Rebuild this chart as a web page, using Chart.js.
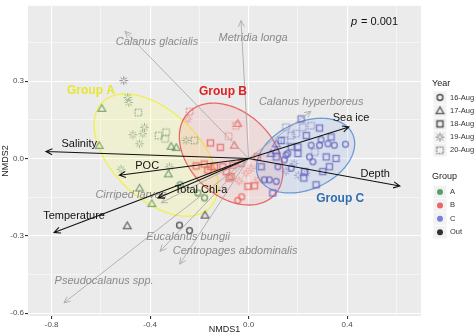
<!DOCTYPE html>
<html lang="en">
<head>
<meta charset="UTF-8">
<title>NMDS</title>
<script src="https://cdn.jsdelivr.net/npm/chart.js"></script>
<style>
  html, body { margin: 0; padding: 0; background: #fff; }
</style>
</head>
<body>
<canvas id="nmds" width="474" height="335"></canvas>
<script>
// ---- data ----
const dayLabels = ['16-Aug', '17-Aug', '18-Aug', '19-Aug', '20-Aug'];
const groupLabels = ['A', 'B', 'C', 'Out'];

// day index: 0 circle, 1 triangle, 2 square, 3 star, 4 dashed square
const aX = [-0.491, -0.487, -0.596, -0.448, -0.423, -0.470, -0.430, -0.443, -0.366, -0.335, -0.339, -0.315, -0.294, -0.607, -0.518, -0.322, -0.326, -0.443, -0.393, -0.278, -0.206, -0.179, -0.254, -0.220];
const aY = [0.236, 0.217, 0.194, 0.178, 0.121, 0.092, 0.096, 0.057, 0.089, 0.102, 0.076, 0.047, 0.042, 0.050, -0.042, -0.032, -0.060, -0.115, -0.175, -0.102, -0.134, -0.153, 0.070, 0.070];
const aDay = [3, 3, 1, 4, 3, 3, 3, 3, 4, 4, 4, 1, 1, 1, 3, 3, 1, 1, 1, 0, 0, 0, 3, 4];

const bX = [-0.240, -0.247, -0.044, -0.051, -0.081, -0.155, -0.115, -0.058, 0.035, -0.213, -0.180, -0.139, -0.105, -0.064, -0.030, -0.071, -0.091, -0.003, 0.024, -0.044, -0.028, -0.152, -0.010, 0.037, -0.039, 0.010, -0.166, -0.079];
const bY = [0.182, 0.153, 0.136, 0.127, 0.086, 0.060, 0.043, 0.051, 0.006, -0.029, -0.022, -0.032, -0.032, -0.026, -0.019, -0.070, -0.051, -0.108, -0.106, -0.163, -0.149, -0.032, -0.057, -0.083, -0.088, -0.038, -0.045, -0.076];
const bDay = [4, 3, 1, 4, 4, 2, 2, 1, 2, 2, 2, 2, 2, 2, 2, 2, 2, 2, 2, 0, 0, 1, 3, 3, 3, 3, 2, 2];

const cX = [0.220, 0.254, 0.288, 0.193, 0.234, 0.335, 0.288, 0.322, 0.348, 0.393, 0.254, 0.173, 0.145, 0.112, 0.091, 0.112, 0.159, 0.200, 0.247, 0.355, 0.315, 0.328, 0.301, 0.274, 0.227, 0.224, 0.098, 0.064, 0.084, 0.112, 0.173, 0.261, 0.145, 0.152, 0.201, 0.234, 0.152, 0.173, 0.132, 0.200, 0.294, 0.112, 0.152, 0.051, 0.119, 0.213, 0.269, 0.185];
const cY = [0.121, 0.127, 0.118, 0.096, 0.089, 0.083, 0.051, 0.057, 0.051, 0.055, 0.051, 0.045, 0.070, 0.057, 0.019, 0.006, 0.019, 0.019, 0.006, 0.000, 0.006, -0.032, -0.051, -0.102, -0.051, -0.076, -0.134, -0.083, -0.083, -0.089, -0.038, -0.013, -0.006, -0.050, -0.065, -0.057, 0.121, 0.089, 0.070, 0.045, 0.073, 0.032, 0.013, -0.032, -0.032, 0.153, 0.025, -0.020];
const cDay = [4, 4, 2, 4, 2, 2, 0, 0, 0, 0, 0, 2, 4, 1, 1, 2, 0, 2, 0, 2, 2, 2, 2, 2, 2, 2, 2, 0, 0, 0, 0, 0, 0, 3, 3, 3, 4, 4, 2, 2, 0, 1, 0, 2, 0, 2, 4, 3];

const outX = [-0.507, -0.493, -0.281, -0.240, -0.177];
const outY = [0.302, -0.261, -0.259, -0.280, -0.220];
const outDay = [3, 1, 0, 0, 1];

// environmental vectors
const envNames = ['Salinity', 'Sea ice', 'Depth', 'POC', 'Total Chl-a', 'Temperature'];
const envX = [-0.823, 0.407, 0.614, -0.525, -0.368, -0.790];
const envY = [0.027, 0.122, -0.107, -0.065, -0.153, -0.287];
const envLabelX = [-0.688, 0.416, 0.514, -0.412, -0.193, -0.709];
const envLabelY = [0.057, 0.157, -0.061, -0.031, -0.122, -0.222];

// species vectors
const sppNames = ['Calanus glacialis', 'Metridia longa', 'Calanus hyperboreus', 'Cirriped larvae', 'Eucalanus bungii', 'Centropages abdominalis', 'Pseudocalanus spp.'];
const sppX = [-0.502, -0.031, 0.253, -0.355, -0.360, -0.280, -0.750];
const sppY = [0.493, 0.535, 0.183, -0.172, -0.360, -0.410, -0.560];
const sppLabelX = [-0.372, 0.018, 0.254, -0.477, -0.246, -0.055, -0.587];
const sppLabelY = [0.451, 0.466, 0.218, -0.141, -0.306, -0.359, -0.474];

// group ellipses: centre and two semi-axis vectors (NMDS units)
const ellCx = [-0.376, -0.071, 0.231];
const ellCy = [0.013, 0.017, 0.011];
const ellMajX = [0.218, 0.172, 0.191];
const ellMajY = [-0.205, -0.162, 0.084];
const ellMinX = [0.126, 0.121, -0.058];
const ellMinY = [0.119, 0.113, 0.118];
const groupNameX = [-0.640, -0.104, 0.372];
const groupNameY = [0.263, 0.260, -0.157];

const xGrid = [-0.8, -0.6, -0.4, -0.2, 0, 0.2, 0.4, 0.6];
const xMajor = [-0.8, -0.4, 0, 0.4];
const yGrid = [-0.6, -0.45, -0.3, -0.15, 0, 0.15, 0.3, 0.45];
const yMajor = [-0.6, -0.3, 0, 0.3];

// ---- styles ----
const pointColors = { A: 'rgba(70,125,75,0.65)', B: 'rgba(232,95,85,0.72)', C: 'rgba(95,95,190,0.72)', Out: 'rgba(55,55,55,0.75)' };
const keyColors = ['rgba(40,130,65,0.75)', 'rgba(232,55,55,0.75)', 'rgba(80,90,210,0.75)', 'rgba(0,0,0,0.8)'];
const ellStroke = ['#F0F050', '#E86868', '#6A9AD8'];
const ellFill = ['rgba(255,255,110,0.20)', 'rgba(245,120,120,0.15)', 'rgba(120,160,235,0.16)'];
const groupNameColor = ['#E6E62E', '#DD2222', '#2F6DB5'];

function makeIcon(shape, color) {
  const c = document.createElement('canvas');
  c.width = 11; c.height = 11;
  const g = c.getContext('2d');
  g.strokeStyle = color;
  g.translate(5.5, 5.5);
  if (shape === 0) {
    g.lineWidth = 1.5;
    g.beginPath(); g.arc(0, 0, 2.9, 0, Math.PI * 2); g.stroke();
  } else if (shape === 1) {
    g.lineWidth = 1.3;
    g.beginPath(); g.moveTo(0, -3.8); g.lineTo(3.8, 2.8); g.lineTo(-3.8, 2.8); g.closePath(); g.stroke();
  } else if (shape === 2) {
    g.lineWidth = 1.5;
    g.strokeRect(-3, -3, 6, 6);
  } else if (shape === 3) {
    g.lineWidth = 0.8;
    g.beginPath();
    for (let k = 0; k < 8; k++) {
      const a = k * Math.PI / 4;
      g.moveTo(1.4 * Math.cos(a), 1.4 * Math.sin(a));
      g.lineTo(4.2 * Math.cos(a), 4.2 * Math.sin(a));
    }
    g.stroke();
  } else {
    g.lineWidth = 1;
    g.setLineDash([1.6, 1.1]);
    g.strokeRect(-3.3, -3.3, 6.6, 6.6);
  }
  return c;
}

const icons = {};
groupLabels.forEach(gname => { icons[gname] = [0, 1, 2, 3, 4].map(s => makeIcon(s, pointColors[gname])); });
const legendIcons = [0, 1, 2, 3, 4].map(s => makeIcon(s, 'rgba(65,65,65,0.9)'));

function pts(xs, ys) { return xs.map((x, i) => ({ x: x, y: ys[i] })); }
function styleBy(gname, days) {
  return ctx => icons[gname][days[ctx.dataIndex] !== undefined ? days[ctx.dataIndex] : 0];
}
const isIn = (list, v) => list.some(m => Math.abs(m - v) < 1e-9);

function arrow(g, x0, y0, x1, y1, color, lw) {
  const ang = Math.atan2(y1 - y0, x1 - x0), L = 7, sp = Math.PI / 7;
  g.strokeStyle = color; g.lineWidth = lw;
  g.beginPath();
  g.moveTo(x0, y0); g.lineTo(x1, y1);
  g.moveTo(x1 - L * Math.cos(ang - sp), y1 - L * Math.sin(ang - sp));
  g.lineTo(x1, y1);
  g.lineTo(x1 - L * Math.cos(ang + sp), y1 - L * Math.sin(ang + sp));
  g.stroke();
}

const decor = {
  id: 'decor',
  beforeDraw(chart) {
    const g = chart.ctx, a = chart.chartArea;
    g.save();
    g.fillStyle = '#fff'; g.fillRect(0, 0, chart.width, chart.height);
    g.fillStyle = '#EBEBEB'; g.fillRect(a.left, a.top, a.right - a.left, a.bottom - a.top);
    g.restore();
  },
  beforeDatasetsDraw(chart) {
    const g = chart.ctx, xs = chart.scales.x, ys = chart.scales.y, a = chart.chartArea;
    g.save();
    g.beginPath(); g.rect(a.left, a.top, a.right - a.left, a.bottom - a.top); g.clip();
    for (let e = 0; e < ellCx.length; e++) {
      g.beginPath();
      for (let t = 0; t <= Math.PI * 2 + 0.01; t += 0.04) {
        const vx = ellCx[e] + ellMajX[e] * Math.cos(t) + ellMinX[e] * Math.sin(t);
        const vy = ellCy[e] + ellMajY[e] * Math.cos(t) + ellMinY[e] * Math.sin(t);
        const px = xs.getPixelForValue(vx), py = ys.getPixelForValue(vy);
        if (t === 0) g.moveTo(px, py); else g.lineTo(px, py);
      }
      g.closePath();
      g.fillStyle = ellFill[e]; g.fill();
      g.strokeStyle = ellStroke[e]; g.lineWidth = 1.3; g.stroke();
    }
    g.restore();
  },
  afterDatasetsDraw(chart) {
    const g = chart.ctx, xs = chart.scales.x, ys = chart.scales.y;
    const ox = xs.getPixelForValue(0), oy = ys.getPixelForValue(0);
    g.save();
    g.textAlign = 'center'; g.textBaseline = 'middle';
    // species vectors
    sppNames.forEach((n, i) => {
      arrow(g, ox, oy, xs.getPixelForValue(sppX[i]), ys.getPixelForValue(sppY[i]), '#ABABAB', 0.9);
    });
    g.font = 'italic 11px "Liberation Sans"'; g.fillStyle = '#8A8A8A';
    sppNames.forEach((n, i) => g.fillText(n, xs.getPixelForValue(sppLabelX[i]), ys.getPixelForValue(sppLabelY[i])));
    // environmental vectors
    envNames.forEach((n, i) => {
      arrow(g, ox, oy, xs.getPixelForValue(envX[i]), ys.getPixelForValue(envY[i]), '#111', 1.1);
    });
    g.font = '11px "Liberation Sans"'; g.fillStyle = '#111';
    envNames.forEach((n, i) => g.fillText(n, xs.getPixelForValue(envLabelX[i]), ys.getPixelForValue(envLabelY[i])));
    // group names
    g.font = 'bold 12px "Liberation Sans"';
    ['Group A', 'Group B', 'Group C'].forEach((n, i) => {
      g.fillStyle = groupNameColor[i];
      g.fillText(n, xs.getPixelForValue(groupNameX[i]), ys.getPixelForValue(groupNameY[i]));
    });
    // p value
    g.textAlign = 'left'; g.fillStyle = '#111';
    g.font = 'italic 11px "Liberation Sans"';
    g.fillText('p', 351, 22);
    g.font = '11px "Liberation Sans"';
    g.fillText('= 0.001', 361, 22);
    // axis titles
    g.textAlign = 'center';
    g.font = '9px "Liberation Sans"'; g.fillStyle = '#222';
    g.fillText('NMDS1', (chart.chartArea.left + chart.chartArea.right) / 2, 330);
    g.save();
    g.translate(6, (chart.chartArea.top + chart.chartArea.bottom) / 2);
    g.rotate(-Math.PI / 2);
    g.fillText('NMDS2', 0, 0);
    g.restore();
    // legend
    g.textAlign = 'left';
    g.font = '9px "Liberation Sans"'; g.fillStyle = '#222';
    g.fillText('Year', 432, 84);
    g.font = '7.5px "Liberation Sans"';
    dayLabels.forEach((d, i) => {
      const cy = 97.5 + i * 13.2;
      g.fillStyle = '#F2F2F2'; g.fillRect(433.5, cy - 6.3, 13, 12.6);
      g.drawImage(legendIcons[i], 434.5, cy - 5.5);
      g.fillStyle = '#333'; g.fillText(d, 450, cy);
    });
    g.font = '9px "Liberation Sans"'; g.fillStyle = '#222';
    g.fillText('Group', 432, 177);
    g.font = '7.5px "Liberation Sans"';
    groupLabels.forEach((d, i) => {
      const cy = 192 + i * 13.4;
      g.fillStyle = '#F2F2F2'; g.fillRect(433.5, cy - 6.3, 13, 12.6);
      g.fillStyle = keyColors[i];
      g.beginPath(); g.arc(440, cy, 3, 0, Math.PI * 2); g.fill();
      g.fillStyle = '#333'; g.fillText(d, 450, cy);
    });
    g.restore();
  }
};

new Chart(document.getElementById('nmds'), {
  type: 'scatter',
  data: {
    datasets: [
      { label: 'Out', data: pts(outX, outY), pointStyle: styleBy('Out', outDay) },
      { label: 'A', data: pts(aX, aY), pointStyle: styleBy('A', aDay) },
      { label: 'B', data: pts(bX, bY), pointStyle: styleBy('B', bDay) },
      { label: 'C', data: pts(cX, cY), pointStyle: styleBy('C', cDay) }
    ]
  },
  options: {
    responsive: false,
    animation: false,
    devicePixelRatio: 1,
    layout: { padding: { left: 0, right: 53, top: 0, bottom: 0 } },
    plugins: { legend: { display: false }, tooltip: { enabled: false } },
    elements: { point: { radius: 4 } },
    scales: {
      x: {
        type: 'linear', min: -0.896, max: 0.70,
        afterBuildTicks: s => { s.ticks = xGrid.map(v => ({ value: v })); },
        afterFit: s => { s.height = 19; },
        ticks: {
          autoSkip: false, maxRotation: 0, padding: 1,
          color: '#4D4D4D', font: { family: 'Liberation Sans', size: 8 },
          callback: v => isIn(xMajor, v) ? v.toFixed(1) : ''
        },
        grid: {
          color: '#FFFFFF', drawTicks: true, tickLength: 3,
          lineWidth: c => isIn(xMajor, c.tick.value) ? 1.1 : 0.5,
          tickColor: c => isIn(xMajor, c.tick.value) ? '#333' : 'rgba(0,0,0,0)'
        },
        border: { display: false }
      },
      y: {
        type: 'linear', min: -0.611, max: 0.592,
        afterBuildTicks: s => { s.ticks = yGrid.map(v => ({ value: v })); },
        afterFit: s => { s.width = 28; },
        ticks: {
          autoSkip: false, padding: 1,
          color: '#4D4D4D', font: { family: 'Liberation Sans', size: 8 },
          callback: v => isIn(yMajor, v) ? v.toFixed(1) : ''
        },
        grid: {
          color: '#FFFFFF', drawTicks: true, tickLength: 3,
          lineWidth: c => isIn(yMajor, c.tick.value) ? 1.1 : 0.5,
          tickColor: c => isIn(yMajor, c.tick.value) ? '#333' : 'rgba(0,0,0,0)'
        },
        border: { display: false }
      }
    }
  },
  plugins: [decor]
});
</script>
</body>
</html>
